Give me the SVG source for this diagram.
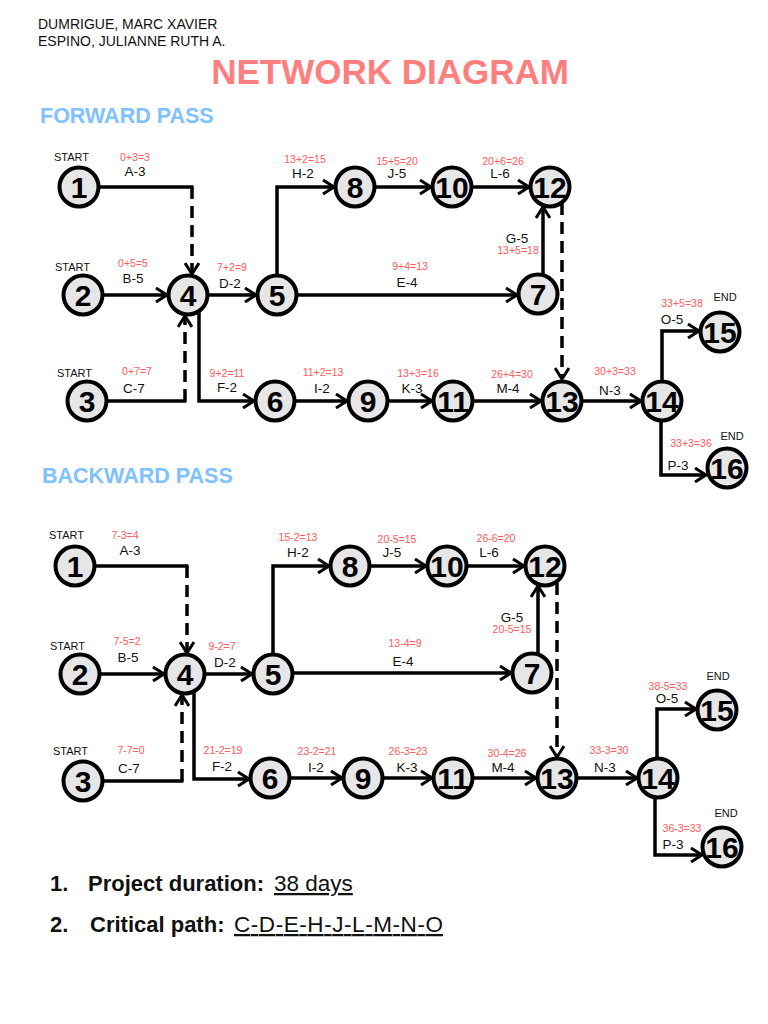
<svg xmlns="http://www.w3.org/2000/svg" width="768" height="1024" viewBox="0 0 768 1024">
<style>
text{font-family:"Liberation Sans",Arial,sans-serif}
.nm{font-size:14px;fill:#111}
.title{font-size:35px;font-weight:bold;fill:#ff7f7f}
.pass{font-size:21.5px;font-weight:bold;fill:#80c1ff}
.st{font-size:11px;fill:#111}
.r{font-size:10.5px;fill:#ff5a5a;text-anchor:middle}
.l{font-size:13.5px;fill:#111;text-anchor:middle}
.node circle{fill:#e6e6e6;stroke:#000;stroke-width:4}
.node text{font-size:30px;font-weight:bold;fill:#000;text-anchor:middle}
.e{fill:none;stroke:#000;stroke-width:3.5}
.d{fill:none;stroke:#000;stroke-width:3.5;stroke-dasharray:12 7}
.a{marker-end:url(#ah)}
.f{font-size:22px;font-weight:bold;fill:#111}
.u{font-size:22.5px;fill:#111;text-decoration:underline}
</style>
<defs>
<marker id="ah" viewBox="0 0 14 16" refX="12" refY="8" markerWidth="14" markerHeight="16" markerUnits="userSpaceOnUse" orient="auto">
<path d="M1,1 L12,8 L1,15" fill="none" stroke="#000" stroke-width="3"/>
</marker>
</defs>
<rect width="768" height="1024" fill="#fff"/>
<text class="nm" x="38" y="29">DUMRIGUE, MARC XAVIER</text>
<text class="nm" x="38" y="46">ESPINO, JULIANNE RUTH A.</text>
<text class="title" x="390" y="84" text-anchor="middle">NETWORK DIAGRAM</text>
<text class="pass" x="40" y="123">FORWARD PASS</text>
<text class="pass" x="42" y="483">BACKWARD PASS</text>

<g id="connectors-forward">
<path class="e" d="M99,187 H193.5"/>
<path class="d a" d="M192,187 V274"/>
<path class="e a" d="M104,295 H167"/>
<path class="e" d="M108,401 H186.5"/>
<path class="d a" d="M185,401 V316"/>
<path class="e a" d="M209,295 H256"/>
<path class="e a" d="M199,311 V401 H254"/>
<path class="e a" d="M277,274 V187 H334"/>
<path class="e a" d="M298,295 H517"/>
<path class="e a" d="M376,187 H431"/>
<path class="e a" d="M473,187 H529"/>
<path class="e a" d="M543,274 V207"/>
<path class="d a" d="M562,203 V379"/>
<path class="e a" d="M296,401 H347"/>
<path class="e a" d="M389,401 H432"/>
<path class="e a" d="M474,401 H541"/>
<path class="e a" d="M583,401 H641"/>
<path class="e a" d="M662,380 V331 H699"/>
<path class="e a" d="M661,422 V475 H706"/>
</g>
<g id="connectors-backward">
<path class="e" d="M96,566 H188.5"/>
<path class="d a" d="M187,566 V653"/>
<path class="e a" d="M101,674 H164"/>
<path class="e" d="M104,781 H183.5"/>
<path class="d a" d="M182,781 V695"/>
<path class="e a" d="M206,674 H252"/>
<path class="e a" d="M194,691 V779 H249"/>
<path class="e a" d="M273,653 V566 H329"/>
<path class="e a" d="M294,673 H511"/>
<path class="e a" d="M371,566 H426"/>
<path class="e a" d="M468,566 H524"/>
<path class="e a" d="M538,653 V586"/>
<path class="d a" d="M557,583 V757"/>
<path class="e a" d="M291,778 H342"/>
<path class="e a" d="M384,778 H432"/>
<path class="e a" d="M474,778 H536"/>
<path class="e a" d="M578,778 H637"/>
<path class="e a" d="M657,757 V709 H696"/>
<path class="e a" d="M655,799 V855 H702"/>
</g>

<g id="labels-forward">
<text class="st" x="54" y="161">START</text>
<text class="r" x="135" y="161">0+3=3</text>
<text class="l" x="135" y="176">A-3</text>
<text class="st" x="55" y="271">START</text>
<text class="r" x="133" y="267">0+5=5</text>
<text class="l" x="133" y="283">B-5</text>
<text class="st" x="57" y="377">START</text>
<text class="r" x="137" y="375">0+7=7</text>
<text class="l" x="134" y="393">C-7</text>
<text class="r" x="232" y="271">7+2=9</text>
<text class="l" x="230" y="288">D-2</text>
<text class="r" x="227" y="377">9+2=11</text>
<text class="l" x="227" y="392">F-2</text>
<text class="r" x="305" y="163">13+2=15</text>
<text class="l" x="303" y="178">H-2</text>
<text class="r" x="397" y="165">15+5=20</text>
<text class="l" x="397" y="178">J-5</text>
<text class="r" x="503" y="165">20+6=26</text>
<text class="l" x="500" y="178">L-6</text>
<text class="l" x="517" y="243">G-5</text>
<text class="r" x="518" y="254">13+5=18</text>
<text class="r" x="410" y="270">9+4=13</text>
<text class="l" x="407" y="287">E-4</text>
<text class="r" x="323" y="376">11+2=13</text>
<text class="l" x="322" y="393">I-2</text>
<text class="r" x="418" y="377">13+3=16</text>
<text class="l" x="412" y="393">K-3</text>
<text class="r" x="512" y="378">26+4=30</text>
<text class="l" x="508" y="393">M-4</text>
<text class="r" x="615" y="375">30+3=33</text>
<text class="l" x="610" y="395">N-3</text>
<text class="r" x="682" y="307">33+5=38</text>
<text class="l" x="672" y="324">O-5</text>
<text class="st" x="725" y="301" text-anchor="middle">END</text>
<text class="r" x="691" y="447">33+3=36</text>
<text class="st" x="732" y="440" text-anchor="middle">END</text>
<text class="l" x="678" y="470">P-3</text>
</g>
<g id="labels-backward">
<text class="st" x="49" y="539">START</text>
<text class="r" x="125" y="539">7-3=4</text>
<text class="l" x="130" y="555">A-3</text>
<text class="st" x="50" y="650">START</text>
<text class="r" x="127" y="645">7-5=2</text>
<text class="l" x="128" y="662">B-5</text>
<text class="st" x="53" y="755">START</text>
<text class="r" x="131" y="754">7-7=0</text>
<text class="l" x="129" y="773">C-7</text>
<text class="r" x="222" y="650">9-2=7</text>
<text class="l" x="225" y="667">D-2</text>
<text class="r" x="223" y="754">21-2=19</text>
<text class="l" x="222" y="771">F-2</text>
<text class="r" x="298" y="541">15-2=13</text>
<text class="l" x="298" y="557">H-2</text>
<text class="r" x="397" y="543">20-5=15</text>
<text class="l" x="392" y="557">J-5</text>
<text class="r" x="496" y="542">26-6=20</text>
<text class="l" x="489" y="557">L-6</text>
<text class="l" x="512" y="622">G-5</text>
<text class="r" x="512" y="633">20-5=15</text>
<text class="r" x="405" y="647">13-4=9</text>
<text class="l" x="403" y="666">E-4</text>
<text class="r" x="317" y="755">23-2=21</text>
<text class="l" x="316" y="772">I-2</text>
<text class="r" x="408" y="755">26-3=23</text>
<text class="l" x="407" y="772">K-3</text>
<text class="r" x="507" y="757">30-4=26</text>
<text class="l" x="503" y="772">M-4</text>
<text class="r" x="609" y="754">33-3=30</text>
<text class="l" x="605" y="772">N-3</text>
<text class="r" x="668" y="690">38-5=33</text>
<text class="l" x="667" y="703">O-5</text>
<text class="st" x="718" y="680" text-anchor="middle">END</text>
<text class="r" x="682" y="832">36-3=33</text>
<text class="st" x="726" y="817" text-anchor="middle">END</text>
<text class="l" x="673" y="849">P-3</text>
</g>

<g id="f1" class="node"><circle cx="79" cy="187" r="19.5"/><text x="79" y="197.5">1</text></g>
<g id="f2" class="node"><circle cx="83" cy="295" r="19.5"/><text x="83" y="305.5">2</text></g>
<g id="f3" class="node"><circle cx="87" cy="401" r="19.5"/><text x="87" y="411.5">3</text></g>
<g id="f4" class="node"><circle cx="188" cy="295" r="19.5"/><text x="188" y="305.5">4</text></g>
<g id="f5" class="node"><circle cx="277" cy="295" r="19.5"/><text x="277" y="305.5">5</text></g>
<g id="f6" class="node"><circle cx="275" cy="401" r="19.5"/><text x="275" y="411.5">6</text></g>
<g id="f7" class="node"><circle cx="538" cy="294" r="19.5"/><text x="538" y="304.5">7</text></g>
<g id="f8" class="node"><circle cx="355" cy="187" r="19.5"/><text x="355" y="197.5">8</text></g>
<g id="f9" class="node"><circle cx="368" cy="401" r="19.5"/><text x="368" y="411.5">9</text></g>
<g id="f10" class="node"><circle cx="452" cy="187" r="19.5"/><text x="452" y="197.5">10</text></g>
<g id="f11" class="node"><circle cx="453" cy="401" r="19.5"/><text x="453" y="411.5">11</text></g>
<g id="f12" class="node"><circle cx="550" cy="187" r="19.5"/><text x="550" y="197.5">12</text></g>
<g id="f13" class="node"><circle cx="562" cy="401" r="19.5"/><text x="562" y="411.5">13</text></g>
<g id="f14" class="node"><circle cx="662" cy="401" r="19.5"/><text x="662" y="411.5">14</text></g>
<g id="f15" class="node"><circle cx="720" cy="332" r="19.5"/><text x="720" y="342.5">15</text></g>
<g id="f16" class="node"><circle cx="727" cy="468" r="19.5"/><text x="727" y="478.5">16</text></g>

<g id="b1" class="node"><circle cx="75" cy="566" r="19.5"/><text x="75" y="576.5">1</text></g>
<g id="b2" class="node"><circle cx="80" cy="674" r="19.5"/><text x="80" y="684.5">2</text></g>
<g id="b3" class="node"><circle cx="83" cy="781" r="19.5"/><text x="83" y="791.5">3</text></g>
<g id="b4" class="node"><circle cx="185" cy="674" r="19.5"/><text x="185" y="684.5">4</text></g>
<g id="b5" class="node"><circle cx="273" cy="674" r="19.5"/><text x="273" y="684.5">5</text></g>
<g id="b6" class="node"><circle cx="270" cy="778" r="19.5"/><text x="270" y="788.5">6</text></g>
<g id="b7" class="node"><circle cx="532" cy="673" r="19.5"/><text x="532" y="683.5">7</text></g>
<g id="b8" class="node"><circle cx="350" cy="566" r="19.5"/><text x="350" y="576.5">8</text></g>
<g id="b9" class="node"><circle cx="363" cy="778" r="19.5"/><text x="363" y="788.5">9</text></g>
<g id="b10" class="node"><circle cx="447" cy="566" r="19.5"/><text x="447" y="576.5">10</text></g>
<g id="b11" class="node"><circle cx="453" cy="778" r="19.5"/><text x="453" y="788.5">11</text></g>
<g id="b12" class="node"><circle cx="545" cy="566" r="19.5"/><text x="545" y="576.5">12</text></g>
<g id="b13" class="node"><circle cx="557" cy="778" r="19.5"/><text x="557" y="788.5">13</text></g>
<g id="b14" class="node"><circle cx="658" cy="778" r="19.5"/><text x="658" y="788.5">14</text></g>
<g id="b15" class="node"><circle cx="717" cy="710" r="19.5"/><text x="717" y="720.5">15</text></g>
<g id="b16" class="node"><circle cx="722" cy="847" r="19.5"/><text x="722" y="857.5">16</text></g>

<text class="f" x="50" y="891">1.</text>
<text class="f" x="88" y="891">Project duration:</text>
<text class="u" x="274" y="891">38 days</text>
<text class="f" x="50" y="932">2.</text>
<text class="f" x="90" y="932">Critical path:</text>
<text class="u" x="234" y="932" textLength="209" lengthAdjust="spacing">C-D-E-H-J-L-M-N-O</text>
</svg>
